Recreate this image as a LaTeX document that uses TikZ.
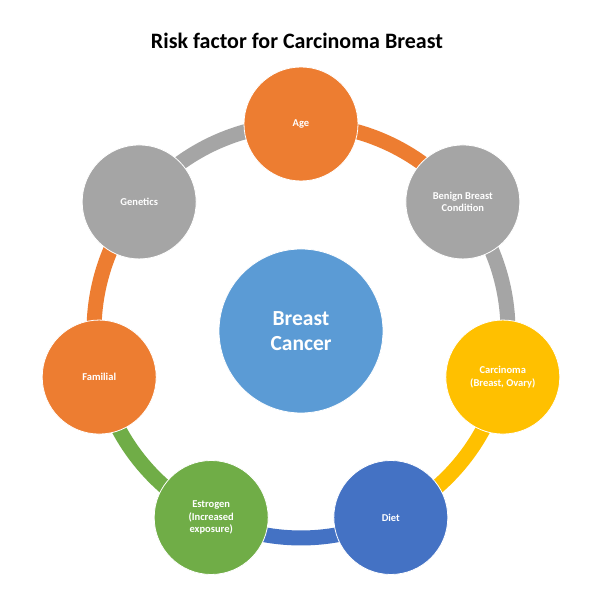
\documentclass[tikz,border=0pt]{standalone}
\usepackage{fontspec}
\setmainfont{Carlito}
\definecolor{cOrange}{HTML}{ED7D31}
\definecolor{cGray}{HTML}{A5A5A5}
\definecolor{cYellow}{HTML}{FFC000}
\definecolor{cBlue}{HTML}{4472C4}
\definecolor{cGreen}{HTML}{70AD47}
\definecolor{cCenter}{HTML}{5B9BD5}
\begin{document}
\begin{tikzpicture}[x=1pt,y=1pt,
  factor/.style={circle, minimum size=114pt, inner sep=0pt, draw=white, line width=0.8pt,
     text=white, align=center, font=\fontsize{10.5}{12.6}\selectfont\bfseries},
  hub/.style={circle, minimum size=164pt, inner sep=0pt, draw=white, line width=0.8pt,
     fill=cCenter, text=white, align=center, font=\fontsize{21.5}{24.5}\selectfont\bfseries},
  ring/.style={line width=15pt}]
\useasboundingbox[fill=white] (0,0) rectangle (594,596);
\coordinate (C) at (301,265);
\node[font=\fontsize{22}{26}\selectfont\bfseries] (title) at (297,555) {Risk factor for Carcinoma Breast};
% node positions
\coordinate (pA) at ([shift={(90:207pt)}]C);
\coordinate (pB) at ([shift={(38.571:207pt)}]C);
\coordinate (pC) at ([shift={(-12.857:207pt)}]C);
\coordinate (pD) at ([shift={(-64.286:207pt)}]C);
\coordinate (pE) at ([shift={(-115.714:207pt)}]C);
\coordinate (pF) at ([shift={(-167.143:207pt)}]C);
\coordinate (pG) at ([shift={(-218.571:207pt)}]C);
% ring arcs
\draw[ring, cOrange] (pA) arc[start angle=90, end angle=38.571, radius=207pt];
\draw[ring, cGray] (pB) arc[start angle=38.571, end angle=-12.857, radius=207pt];
\draw[ring, cYellow] (pC) arc[start angle=-12.857, end angle=-64.286, radius=207pt];
\draw[ring, cBlue] (pD) arc[start angle=-64.286, end angle=-115.714, radius=207pt];
\draw[ring, cGreen] (pE) arc[start angle=-115.714, end angle=-167.143, radius=207pt];
\draw[ring, cOrange] (pF) arc[start angle=-167.143, end angle=-218.571, radius=207pt];
\draw[ring, cGray] (pG) arc[start angle=-218.571, end angle=-270, radius=207pt];
% circles
\node[factor, fill=cOrange] (age) at (pA) {Age};
\node[factor, fill=cGray] (benign) at (pB) {Benign Breast\\Condition};
\node[factor, fill=cYellow] (carc) at (pC) {Carcinoma\\(Breast, Ovary)};
\node[factor, fill=cBlue] (diet) at (pD) {Diet};
\node[factor, fill=cGreen] (estr) at (pE) {Estrogen\\(Increased\\exposure)};
\node[factor, fill=cOrange] (fam) at (pF) {Familial};
\node[factor, fill=cGray] (gen) at (pG) {Genetics};
\node[hub] (bc) at (C) {Breast\\Cancer};
\end{tikzpicture}
\end{document}
